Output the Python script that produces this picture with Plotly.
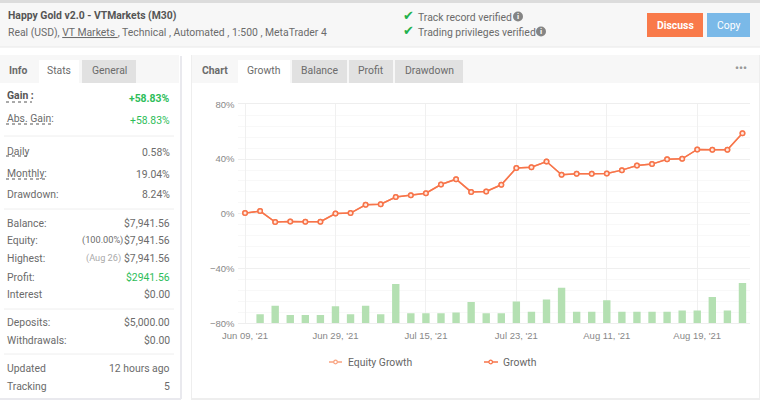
import plotly.graph_objects as go

W = 760
H = 401

# chart values
growth = [0.5, 2, -6, -5.6, -5.8, -5.8, 0.2, 0.5, 6.6, 7, 12.2, 13.6, 15, 21.4, 25.3, 16,
          16.3, 21.2, 33.4, 34, 38.2, 28.5, 29.2, 29.2, 29.5, 31.9, 35.3, 36.3, 39.9, 40.2,
          47, 46.8, 46.8, 58.83]
equity_growth = [0.5, 2, -6, -5.6, -5.8, -5.8, 0.2, 0.5, 6.6, 7, 12.2, 13.6, 15, 21.4, 25.3, 16,
                 16.3, 21.2, 33.4, 34, 38.2, 28.5, 29.2, 29.2, 29.5, 31.9, 35.3, 36.3, 39.9, 40.2,
                 47, 46.8, 46.8, 58.83]
bar_heights = [6.6, 12.9, 6.1, 6.1, 6.1, 12.4, 6.6, 12.9, 6.6, 28.7, 7.3, 7.3, 7.3, 7.8, 15.6,
               7.3, 7.3, 16, 8.5, 17.3, 26, 8.5, 8.5, 16.8, 8.5, 8.5, 8.5, 8.5, 9.3, 9.3,
               19.2, 9.3, 29.5]
tick_index = [0, 6, 12, 18, 24, 30]
tick_labels = ["Jun 09, '21", "Jun 29, '21", "Jul 15, '21", "Jul 23, '21", "Aug 11, '21", "Aug 19, '21"]
y_ticks = [-80, -40, 0, 40, 80]
y_tick_labels = ["−80%", "−40%", "0%", "40%", "80%"]

# left panel rows: label, value
stats_labels = ["Daily", "Monthly:", "Drawdown:", "Balance:", "Equity:", "Highest:", "Profit:", "Interest",
                "Deposits:", "Withdrawals:", "Updated", "Tracking"]
stats_values = ["0.58%", "19.04%", "8.24%", "$7,941.56", "$7,941.56", "$7,941.56", "$2941.56", "$0.00",
                "$5,000.00", "$0.00", "12 hours ago", "5"]
stats_y = [151, 173, 194, 223, 240, 258, 277, 294, 322, 340, 368, 386]

GRAY = "#6b6b6b"
GREEN = "#2ebd59"
FONT = "Roboto"
TXT = 10.4

x_index = list(range(len(growth)))


def px(x):
    return x / W


def py(y):
    return 1 - y / H


shapes = []
annotations = []


def box(x0, y0, x1, y1, color):
    shapes.append(dict(type="rect", xref="paper", yref="paper", x0=px(x0), x1=px(x1), y0=py(y0), y1=py(y1),
                       fillcolor=color, line=dict(width=0), layer="below"))


def hline(x0, x1, y, color="#eeeeee", dash="solid", width=1):
    shapes.append(dict(type="line", xref="paper", yref="paper", x0=px(x0), x1=px(x1), y0=py(y), y1=py(y),
                       line=dict(color=color, width=width, dash=dash), layer="below"))


def dot(cx, cy, r, fill, edge=None):
    shapes.append(dict(type="circle", xref="paper", yref="paper", x0=px(cx - r), x1=px(cx + r),
                       y0=py(cy + r), y1=py(cy - r), fillcolor=fill,
                       line=dict(color=edge, width=1.2) if edge else dict(width=0)))


def label(x, y, text, size=TXT, color=GRAY, anchor="left"):
    annotations.append(dict(xref="paper", yref="paper", x=px(x), y=py(y), text=text, showarrow=False,
                            xanchor=anchor, yanchor="middle", borderpad=0,
                            font=dict(family=FONT, size=size, color=color)))


# header
box(0, 0, W, 3, "#dcdcdc")
box(0, 3, W, 47, "#f7f7f7")
hline(0, W, 47, "#e8e8e8")
label(7, 15.5, "<b>Happy Gold v2.0 - VTMarkets (M30)</b>", TXT, "#555555")
label(7, 32, "Real (USD), <u>VT Markets </u>, Technical , Automated , 1:500 , MetaTrader 4", TXT)
label(402, 16, "✔", 13, "#22b14c")
label(402, 31, "✔", 13, "#22b14c")
label(417, 17, "Track record verified", TXT)
label(417, 32, "Trading privileges verified", TXT)
for cx, cy in [(518, 16.5), (541, 31.5)]:
    dot(cx, cy, 5, "#858585")
    label(cx, cy, "<b>i</b>", 8, "#ffffff", "center")
box(647, 13, 703, 37, "#f97a4a")
box(707, 13, 750, 37, "#7ab9e8")
label(675, 25, "<b>Discuss</b>", TXT, "#ffffff", "center")
label(728.5, 25, "Copy", TXT, "#ffffff", "center")

# panels
box(180, 56, 182, 399, "#e9e9ee")
box(0, 398, 181, 400, "#e9e9ee")
box(0, 55, 179, 83, "#f7f7f7")
box(192, 55, 759, 83, "#f7f7f7")
box(191, 55, 192, 399, "#eeeeee")
box(759, 55, 760, 399, "#eeeeee")
box(191, 398, 760, 400, "#eeeeee")

# tabs
box(39, 60, 79, 83, "#ffffff")
box(82, 60, 136, 83, "#e1e1e1")
box(238, 60, 290, 83, "#ffffff")
box(292, 60, 347, 83, "#e1e1e1")
box(349, 60, 393, 83, "#e1e1e1")
box(395, 60, 463, 83, "#e1e1e1")
label(8, 70.5, "<b>Info</b>", TXT)
label(59, 70.5, "Stats", TXT, GRAY, "center")
label(109, 70.5, "General", TXT, GRAY, "center")
label(201, 70.5, "<b>Chart</b>", TXT)
label(264, 70.5, "Growth", TXT, GRAY, "center")
label(319.5, 70.5, "Balance", TXT, GRAY, "center")
label(371, 70.5, "Profit", TXT, GRAY, "center")
label(429, 70.5, "Drawdown", TXT, GRAY, "center")
label(741, 68, "<b>•••</b>", 11, "#999999", "center")

# left table
label(6, 95, "<b>Gain :</b>", TXT, "#555555")
label(171, 98, "<b>+58.83%</b>", TXT, GREEN, "right")
label(6, 118, "Abs. Gain:", TXT)
label(171, 120, "+58.83%", TXT, GREEN, "right")
hline(6, 32, 102, "#555555", "dot")
hline(6, 53, 124, "#555555", "dot")
hline(6, 28, 156, "#555555", "dot")
hline(6, 45, 179, "#555555", "dot")
for sep_y in [136, 209, 309, 354]:
    hline(4, 174, sep_y)
for row_label, row_value, row_y in zip(stats_labels, stats_values, stats_y):
    label(6, row_y, row_label, TXT)
    shift = 1.5 if row_label in ("Daily", "Monthly:") else 0
    label(171, row_y + shift, row_value, TXT, GREEN if row_label == "Profit:" else GRAY, "right")
label(124, 240, "(100.00%)", 9.2, GRAY, "right")
label(122, 258, "(Aug 26)", 9.2, "#aaaaaa", "right")

# legend, its line is much shorter than plotly's own legend can draw
hline(329, 342, 362, "#f9a27f", width=1.5)
dot(335.5, 362, 1.8, "#ffffff", "#f9a27f")
label(347, 362, "Equity Growth", TXT, "#666666")
hline(484, 498, 362, "#f7744a", width=1.5)
dot(490.7, 362, 1.8, "#ffffff", "#f7744a")
label(502, 362, "Growth", TXT, "#666666")

fig = go.Figure()
fig.add_trace(go.Bar(x=x_index[1:], y=bar_heights, base=-80, width=0.49, marker=dict(color="#b4e0b2", line=dict(width=0)),
                     showlegend=False, hoverinfo="skip"))
fig.add_trace(go.Scatter(x=x_index, y=equity_growth, name="Equity Growth", mode="lines+markers", showlegend=False,
                         line=dict(color="#f9a27f", width=1.5),
                         marker=dict(size=4.5, color="#ffffff", line=dict(color="#f9a27f", width=1.5))))
fig.add_trace(go.Scatter(x=x_index, y=growth, name="Growth", mode="lines+markers", showlegend=False,
                         line=dict(color="#f7744a", width=1.5),
                         marker=dict(size=4.5, color="#ffe9e0", line=dict(color="#f7744a", width=1.5))))

fig.update_layout(
    width=W,
    height=H,
    margin=dict(l=0, r=0, t=0, b=0),
    paper_bgcolor="#ffffff",
    plot_bgcolor="rgba(0,0,0,0)",
    font=dict(family="Liberation Sans", size=9.5, color="#888888"),
    shapes=shapes,
    annotations=annotations,
    xaxis=dict(domain=[px(237.5), px(750)], range=[-0.5, 33.5], tickmode="array", tickvals=tick_index,
               ticktext=tick_labels, showgrid=True, gridcolor="#f0f0f0", gridwidth=1, zeroline=False,
               showline=True, linecolor="#eeeeee", mirror=True, ticks="", fixedrange=True, automargin=False,
               ticklabelstandoff=3),
    yaxis=dict(domain=[py(323.3), py(104.3)], range=[-80, 80], tickmode="array", tickvals=y_ticks,
               ticktext=y_tick_labels, showgrid=True, gridcolor="#efefef", gridwidth=1, zeroline=False,
               showline=False, ticks="", fixedrange=True, automargin=False, ticklabelstandoff=2,
               minor=dict(dtick=8, tick0=0, showgrid=True, gridcolor="#f8f8f8", gridwidth=1, ticks="")),
)

fig.write_html("out.html", post_script="document.body.style.margin='0';document.body.style.overflow='hidden';",
               config=dict(displayModeBar=False))
